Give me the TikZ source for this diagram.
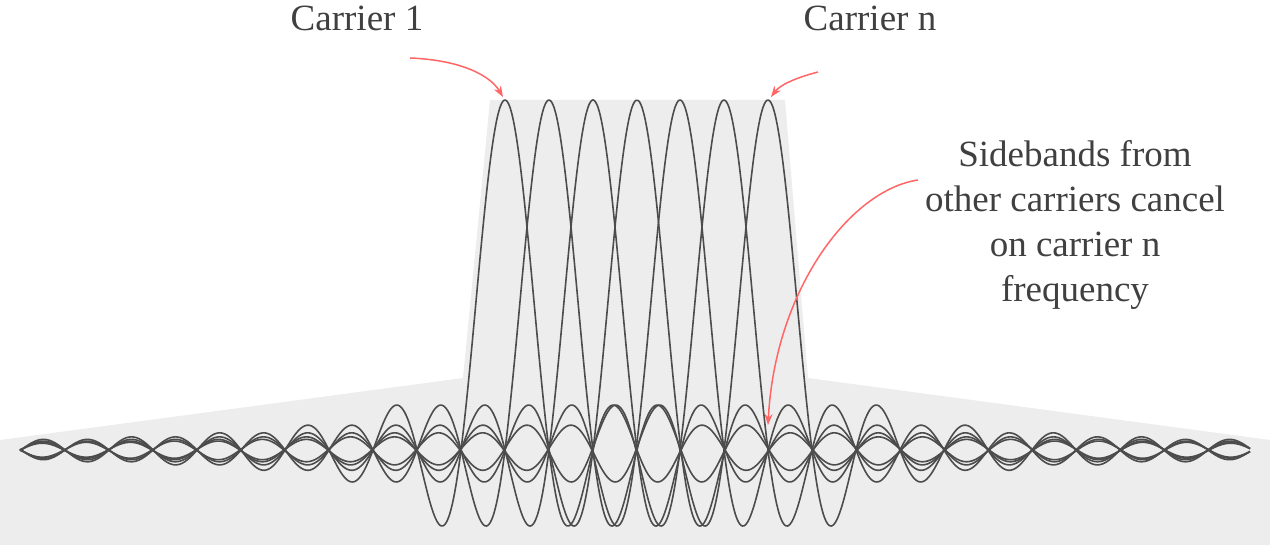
\documentclass[tikz,border=0pt]{standalone}
\usepackage{fontspec}
\setmainfont{Liberation Serif}
\usetikzlibrary{arrows.meta}
\begin{document}
\begin{tikzpicture}[x=1pt,y=-1pt,
  lbl/.style={font=\fontsize{37}{45}\selectfont,text=black!75,align=center},
  callout/.style={draw=red!60!white,line width=1.5pt,-{Stealth[length=11pt,width=8pt]}},
  wave/.style={draw=black!70,line width=1.6pt}]
\useasboundingbox (0,0) rectangle (1270,545);
\fill[black!7] (0,440) -- (463,378) -- (490,100) -- (785,100) -- (808,378) -- (1270,440) -- (1270,545) -- (0,545) -- cycle;
\foreach \c in {505,549,593,637,680,724,768}{
  \draw[wave] plot[domain=20:1250,samples=900,smooth] (\x,{450-350*sin(180*((\x-\c)/44+0.00013))/(pi*((\x-\c)/44+0.00013))});
}
\node[lbl] (c1) at (357,18) {Carrier 1};
\node[lbl] (cn) at (870,18) {Carrier n};
\node[lbl] (sb) at (1075,225) {Sidebands from\\other carriers cancel\\on carrier n\\frequency};
\coordinate (p1) at (503,97);
\coordinate (pn) at (771,97);
\coordinate (pz) at (768,425);
\coordinate (s1) at (410,58);
\coordinate (sn) at (818,72);
\coordinate (ss) at (918,180);
\draw[callout] (s1) .. controls (460,60) and (490,75) .. (p1);
\draw[callout] (sn) .. controls (795,78) and (780,85) .. (pn);
\draw[callout] (ss) .. controls (850,190) and (775,290) .. (pz);
\end{tikzpicture}
\end{document}
